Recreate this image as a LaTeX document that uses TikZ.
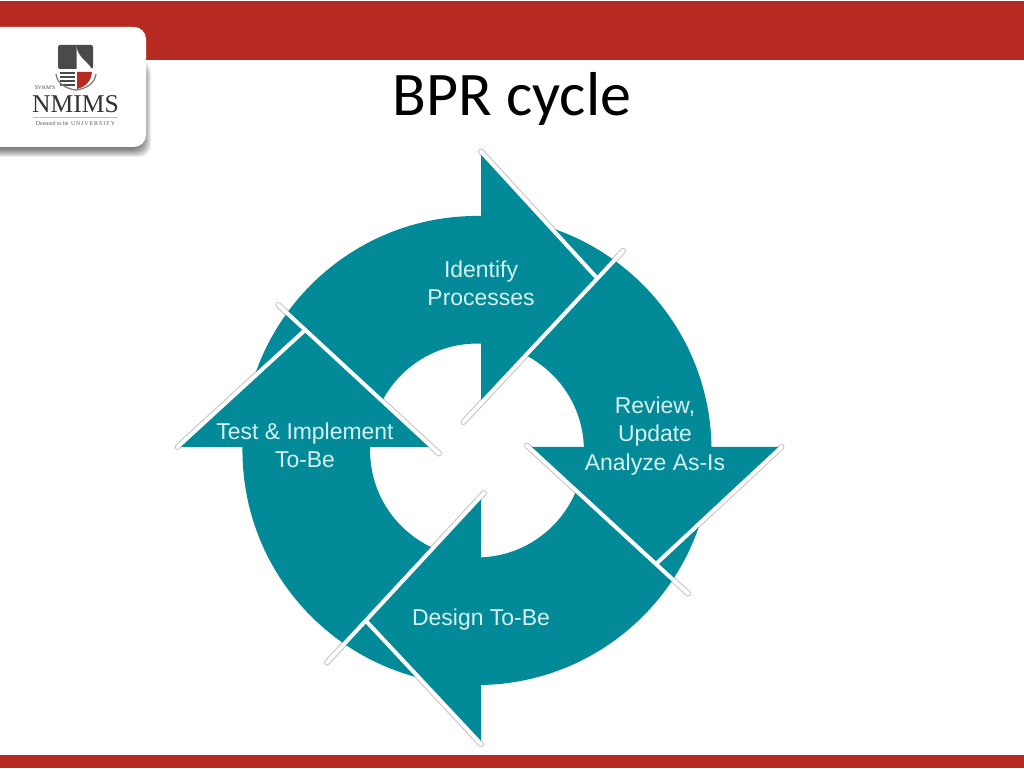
\documentclass[tikz,border=0pt]{standalone}
\usepackage{fontspec}
\setmainfont{Liberation Sans}
\newfontfamily\titlefont{Carlito}
\newfontfamily\logofont{Liberation Serif}
\definecolor{barred}{HTML}{B72A21}
\definecolor{teal1}{HTML}{028A99}
\definecolor{edgegray}{HTML}{C4BDBB}
\definecolor{labelcol}{HTML}{D6F0F2}
\definecolor{shielddark}{HTML}{4A4A4A}
\tikzset{
  headshape/.style={fill=teal1,draw=none},
  rulegray/.style={draw=edgegray,line width=4.4pt,line cap=round},
  rulewhite/.style={draw=white,line width=3pt,line cap=round},
  lab/.style={text=labelcol,font=\fontsize{17.2}{21.4}\selectfont,align=center,inner sep=0pt},
  shadowlayer/.style={fill=black,opacity=0.07,draw=none,rounded corners=9pt}
}
\begin{document}
\begin{tikzpicture}[x=0.75pt,y=0.75pt]
\useasboundingbox (0,0) rectangle (1024,768);
\fill[white] (0,0) rectangle (1024,768);
% bars
\fill[barred] (0,708) rectangle (1024,767);
\fill[barred] (0,0) rectangle (1024,13);
% logo tab with soft shadow
\foreach \o in {0,1,2,3,4,5,6,7,8}{
  \fill[shadowlayer] (-20,{768-157+\o}) rectangle ({151-\o},{708-\o});
}
\fill[white,rounded corners=9pt] (-20,{768-147}) rectangle (146,{768-27});
% shield
\fill[shielddark,rounded corners=1.5pt] (58,723) -- (93,723) -- (93,699) -- (58,699) -- cycle;
\fill[white] (76.5,724) .. controls (76,712) and (86,708) .. (92,699) -- (76.5,699) -- cycle;
\fill[barred] (77,696) -- (92,696) .. controls (91,686) and (85,681) .. (77,679) -- cycle;
\foreach \yy in {695,691,687,683}{\draw[shielddark,line width=0.9pt] (60,\yy) -- (75,\yy);}
\draw[shielddark!70,line width=1pt] (56,694) .. controls (57,684) and (67,679) .. (76,678) .. controls (85,679) and (95,684) .. (96,694);
% logo text
\node[inner sep=0pt,text=shielddark,font=\logofont\fontsize{4.2}{5}\selectfont] (svkm) at (45,680) {SVKM'S};
\node[inner sep=0pt,text=black!80,font=\logofont\fontsize{19.2}{20}\selectfont] (nmims) at (75.5,664) {NMIMS};
\draw[black!25,line width=0.4pt] (33,651) -- (118,651);
\node[inner sep=0pt,text=black!65,font=\logofont\fontsize{4.4}{5}\selectfont] (deemed) at (75.5,644) {Deemed to be \,U\,N\,I\,V\,E\,R\,S\,I\,T\,Y};
% title
\node[inner sep=0pt,font=\titlefont\fontsize{46.5}{50}\selectfont] (title) at (512,669) {BPR cycle};
% named geometry (y measured up)
\coordinate (c) at (477,317.5);
\coordinate (a1) at (481,616.5); \coordinate (a2) at (596,491);  \coordinate (a3) at (481,365);
\coordinate (b1) at (781.5,321); \coordinate (b2) at (657,205);  \coordinate (b3) at (529,321);
\coordinate (d1) at (481,24);    \coordinate (d2) at (367,146);  \coordinate (d3) at (481,271.5);
\coordinate (e1) at (177.5,321); \coordinate (e2) at (304,437);  \coordinate (e3) at (430,321);
\coordinate (l2s) at (463.5,346);\coordinate (l2e) at (623,517);
\coordinate (l3s) at (527,322.5);\coordinate (l3e) at (688,174.5);
\coordinate (l1s) at (327,105.5);\coordinate (l1e) at (484,275);
\coordinate (l4s) at (278.3,463);\coordinate (l4e) at (439,314.5);
% outlines underneath
\foreach \p/\q in {a1/a2,b1/b2,d1/d2,e1/e2,l2s/l2e,l3s/l3e,l1s/l1e,l4s/l4e}{
  \draw[rulegray] (\p) -- (\q);
}
% ring and arrow heads
\fill[teal1,even odd rule] (c) circle[radius=175.9pt] (c) circle[radius=80.2pt];
\fill[headshape] (a1) -- (a2) -- (a3) -- cycle;
\fill[headshape] (b1) -- (b2) -- (b3) -- cycle;
\fill[headshape] (d1) -- (d2) -- (d3) -- cycle;
\fill[headshape] (e1) -- (e2) -- (e3) -- cycle;
% white rules on top
\foreach \p/\q in {a1/a2,b1/b2,d1/d2,e1/e2,l2s/l2e,l3s/l3e,l1s/l1e,l4s/l4e}{
  \draw[rulewhite] (\p) -- (\q);
}
% labels
\node[lab] (identify) at (481,484.5) {Identify\\Processes};
\node[lab] (review) at (655,332) {Review,\\Update\\Analyze As-Is};
\node[lab] (design) at (481,148.5) {Design To-Be};
\node[lab] (test) at (305,322.5) {Test \& Implement\\To-Be};
\end{tikzpicture}
\end{document}
